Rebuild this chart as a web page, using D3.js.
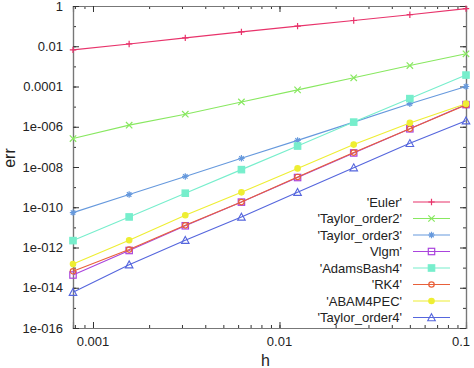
<!DOCTYPE html>
<html>
<head>
<meta charset="utf-8">
<script src="https://cdn.jsdelivr.net/npm/d3@7"></script>
<style>
    body { margin: 0; background: #fff; }
    text { font-family: "Liberation Sans", Arial, sans-serif; fill: #222; }
</style>
</head>
<body>
<script>
// Step sizes h (halved each time) and the error of each method at that step.
var hValues = [0.00078125, 0.0015625, 0.003125, 0.00625,
               0.0125, 0.025, 0.05, 0.1];

var seriesNames = ["'Euler'", "'Taylor_order2'", "'Taylor_order3'", "Vlgm'",
                   "'AdamsBash4'", "'RK4'", "'ABAM4PEC'", "'Taylor_order4'"];

var euler      = [6.6e-3, 1.3e-2, 2.6e-2, 5.2e-2, 1.0e-1, 1.9e-1, 3.7e-1, 7.4e-1];
var taylor2    = [2.6e-7, 1.2e-6, 4.2e-6, 1.7e-5, 6.8e-5, 2.7e-4, 1.1e-3, 4.2e-3];
var taylor3    = [5.4e-11, 4.3e-10, 3.4e-9, 2.7e-8, 2.1e-7, 1.7e-6, 1.4e-5, 1.0e-4];
var vlgm       = [4.3e-14, 7.1e-13, 1.2e-11, 1.8e-10, 3.0e-9, 5.0e-8, 7.9e-7, 1.26e-5];
var adamsBash4 = [2.2e-12, 3.3e-11, 5.0e-10, 7.4e-9, 1.1e-7, 1.7e-6, 2.5e-5, 3.7e-4];
var rk4        = [6.6e-14, 7.9e-13, 1.26e-11, 1.8e-10, 3.2e-9, 5.2e-8, 7.9e-7, 1.2e-5];
var abam4pec   = [1.5e-13, 2.3e-12, 4.0e-11, 5.5e-10, 8.5e-9, 1.3e-7, 1.55e-6, 1.4e-5];
var taylor4    = [6.0e-15, 1.4e-13, 2.3e-12, 3.3e-11, 5.6e-10, 9.3e-9, 1.5e-7, 2.0e-6];

var seriesValues = [euler, taylor2, taylor3, vlgm, adamsBash4, rk4, abam4pec, taylor4];
var seriesColors = ["#e8336b", "#88e860", "#6699dd", "#aa44dd",
                    "#77eecc", "#e8603a", "#eeee33", "#5566dd"];
var seriesMarks  = ["plus", "cross", "star", "square",
                    "fsquare", "circle", "fcircle", "triangle"];

var yTickValues = [1, 1e-2, 1e-4, 1e-6, 1e-8, 1e-10, 1e-12, 1e-14, 1e-16];
var yTickLabels = ["1", "0.01", "0.0001", "1e-006", "1e-008", "1e-010",
                   "1e-012", "1e-014", "1e-016"];
var xTickValues = [0.001, 0.01, 0.1];
var xTickLabels = ["0.001", "0.01", "0.1"];

var margin = {top: 6, right: 8, bottom: 40, left: 73},
    width = 474 - margin.left - margin.right,
    height = 368 - margin.top - margin.bottom;

var svg = d3.select("body").append("svg")
    .attr("width", 474)
    .attr("height", 368)
    .append("g")
    .attr("transform", "translate(" + margin.left + "," + margin.top + ")");

var xScale = d3.scaleLog().domain([0.00078125, 0.1]).range([0, width]);
var yScale = d3.scaleLog().domain([1e-16, 1]).range([height, 0]);

// Minor ticks: every integer multiple on x, every decade on y.
var xMinor = [];
[1e-4, 1e-3, 1e-2].forEach(function(dec) {
    for (var k = 1; k <= 9; k++) {
        var v = dec * k;
        if (v >= 0.00078125 && v <= 0.1) { xMinor.push(v); }
    }
});
var yMinor = d3.range(0, 17).map(function(i) { return Math.pow(10, -i); });

var axisColor = "#777";

// Ticks drawn inward on all four sides
var xAxisB = d3.axisBottom(xScale).tickValues(xMinor)
    .tickSize(-3).tickFormat("");
var xAxisT = d3.axisTop(xScale).tickValues(xMinor)
    .tickSize(-3).tickFormat("");
var yAxisL = d3.axisLeft(yScale).tickValues(yMinor)
    .tickSize(-3).tickFormat("");
var yAxisR = d3.axisRight(yScale).tickValues(yMinor)
    .tickSize(-3).tickFormat("");

svg.append("g").attr("transform", "translate(0," + height + ")").call(xAxisB);
svg.append("g").call(xAxisT);
svg.append("g").call(yAxisL);
svg.append("g").attr("transform", "translate(" + width + ",0)").call(yAxisR);

// Longer major ticks
svg.append("g").attr("transform", "translate(0," + height + ")")
    .call(d3.axisBottom(xScale).tickValues(xTickValues).tickSize(-6).tickFormat(""));
svg.append("g")
    .call(d3.axisTop(xScale).tickValues(xTickValues).tickSize(-6).tickFormat(""));
svg.append("g")
    .call(d3.axisLeft(yScale).tickValues(yTickValues).tickSize(-6).tickFormat(""));
svg.append("g").attr("transform", "translate(" + width + ",0)")
    .call(d3.axisRight(yScale).tickValues(yTickValues).tickSize(-6).tickFormat(""));

svg.selectAll(".domain").attr("stroke", axisColor).attr("stroke-width", 1.2);
svg.selectAll(".tick line").attr("stroke", "#333");

// Tick labels
svg.selectAll(".ylab")
    .data(yTickValues)
    .enter()
    .append("text")
    .attr("x", -10)
    .attr("y", function(d) { return yScale(d); })
    .attr("dy", "0.35em")
    .attr("text-anchor", "end")
    .attr("font-size", "13px")
    .text(function(d, i) { return yTickLabels[i]; });

svg.selectAll(".xlab")
    .data(xTickValues)
    .enter()
    .append("text")
    .attr("x", function(d) { return xScale(d); })
    .attr("y", height + 18)
    .attr("text-anchor", function(d, i) { return i == 2 ? "end" : "middle"; })
    .attr("dx", function(d, i) { return i == 2 ? "4" : "0"; })
    .attr("font-size", "13px")
    .text(function(d, i) { return xTickLabels[i]; });

// Axis titles
svg.append("text")
    .attr("x", width / 2 - 4)
    .attr("y", height + 38)
    .attr("text-anchor", "middle")
    .attr("font-size", "16px")
    .text("h");

svg.append("text")
    .attr("transform", "rotate(-90)")
    .attr("x", -152)
    .attr("y", -58)
    .attr("text-anchor", "middle")
    .attr("font-size", "16px")
    .text("err");

// Marker drawing for gnuplot-like point types
function drawMark(g, type, x, y, color) {
    var s = 3.2;
    if (type == "plus") {
        g.append("path").attr("d", "M" + (x - s) + "," + y + "h" + 2 * s +
            "M" + x + "," + (y - s) + "v" + 2 * s)
            .attr("stroke", color).attr("stroke-width", 1.2);
    } else if (type == "cross") {
        g.append("path").attr("d", "M" + (x - s) + "," + (y - s) + "l" + 2 * s + "," + 2 * s +
            "M" + (x - s) + "," + (y + s) + "l" + 2 * s + "," + (-2 * s))
            .attr("stroke", color).attr("stroke-width", 1.2);
    } else if (type == "star") {
        g.append("path").attr("d", "M" + (x - s) + "," + y + "h" + 2 * s +
            "M" + x + "," + (y - s) + "v" + 2 * s +
            "M" + (x - s * 0.7) + "," + (y - s * 0.7) + "l" + 1.4 * s + "," + 1.4 * s +
            "M" + (x - s * 0.7) + "," + (y + s * 0.7) + "l" + 1.4 * s + "," + (-1.4 * s))
            .attr("stroke", color).attr("stroke-width", 1.2);
    } else if (type == "square" || type == "fsquare") {
        g.append("rect").attr("x", x - s).attr("y", y - s)
            .attr("width", 2 * s).attr("height", 2 * s)
            .attr("fill", type == "fsquare" ? color : "none")
            .attr("stroke", color).attr("stroke-width", 1.2);
    } else if (type == "circle" || type == "fcircle") {
        g.append("circle").attr("cx", x).attr("cy", y).attr("r", s * 0.85)
            .attr("fill", type == "fcircle" ? color : "none")
            .attr("stroke", color).attr("stroke-width", 1.2);
    } else if (type == "triangle") {
        g.append("path").attr("d", "M" + x + "," + (y - s - 0.6) + "L" + (x + s + 0.6) + "," +
            (y + s) + "L" + (x - s - 0.6) + "," + (y + s) + "Z")
            .attr("fill", "none").attr("stroke", color).attr("stroke-width", 1.1);
    }
}

var line = d3.line()
    .x(function(d, i) { return xScale(hValues[i]); })
    .y(function(d) { return yScale(d); });

var plot = svg.append("g");
seriesValues.forEach(function(vals, k) {
    plot.append("path")
        .datum(vals)
        .attr("fill", "none")
        .attr("stroke", seriesColors[k])
        .attr("stroke-width", 1.1)
        .attr("d", line);
    vals.forEach(function(v, i) {
        drawMark(plot, seriesMarks[k], xScale(hValues[i]), yScale(v), seriesColors[k]);
    });
});

// Legend in the lower right corner
var legend = svg.append("g");
seriesNames.forEach(function(name, k) {
    var ly = 196 + k * 16.5;
    legend.append("text")
        .attr("x", 329)
        .attr("y", ly)
        .attr("dy", "0.35em")
        .attr("text-anchor", "end")
        .attr("font-size", "13px")
        .text(name);
    legend.append("line")
        .attr("x1", 340).attr("x2", 377)
        .attr("y1", ly).attr("y2", ly)
        .attr("stroke", seriesColors[k])
        .attr("stroke-width", 1.1);
    drawMark(legend, seriesMarks[k], 358.5, ly, seriesColors[k]);
});
</script>
</body>
</html>
